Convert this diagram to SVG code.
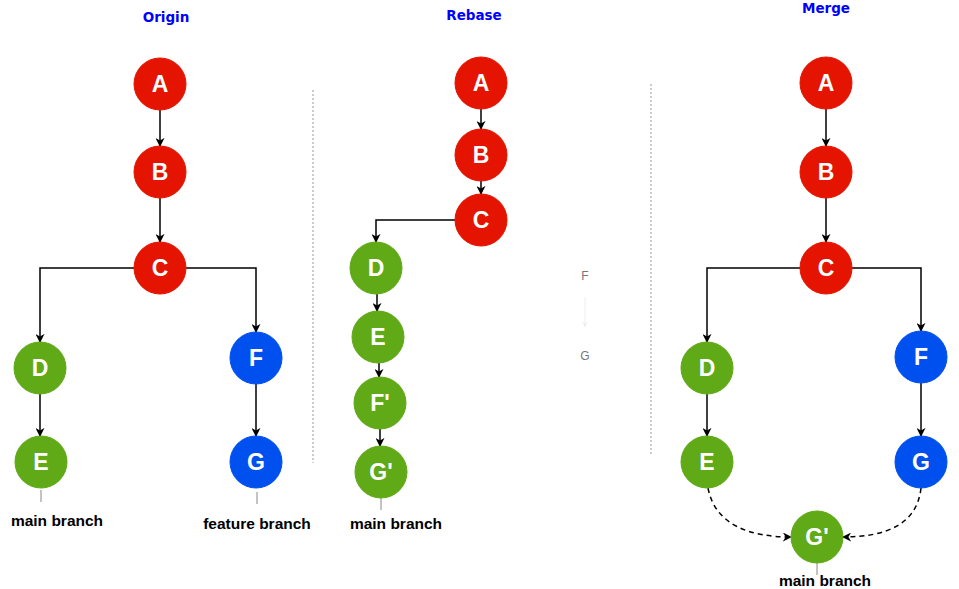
<svg xmlns="http://www.w3.org/2000/svg" width="959" height="589" viewBox="0 0 959 589">
<style>
.red{fill:#e51400;stroke:#e51400}
.grn{fill:#60a917;stroke:#60a917}
.blu{fill:#0050ef;stroke:#0050ef}
.nt{font-family:"Liberation Sans",Arial,sans-serif;font-weight:bold;font-size:23px;fill:#fff;text-anchor:middle}
.lbl{font-family:"Liberation Sans",Arial,sans-serif;font-weight:bold;font-size:15.5px;fill:#000;text-anchor:middle}
.ttl{font-family:"Comic Sans MS","DejaVu Sans",sans-serif;font-weight:bold;font-size:13.5px;fill:#0000ff;text-anchor:middle}
.e{fill:none;stroke:#000;stroke-width:1.5}
.d{fill:none;stroke:#000;stroke-width:1.5;stroke-dasharray:5 4}
.sep{stroke:#999;stroke-width:1;stroke-dasharray:2 2}
.tick{stroke:#888;stroke-width:1}
</style>
<defs>
<marker id="ar" viewBox="0 0 10 10" refX="9" refY="5" markerWidth="9" markerHeight="9" orient="auto" markerUnits="userSpaceOnUse">
<path d="M0,0 L10,5 L0,10 L3,5 Z" fill="#000"/>
</marker>
<marker id="arf" viewBox="0 0 10 10" refX="9" refY="5" markerWidth="6" markerHeight="6" orient="auto" markerUnits="userSpaceOnUse">
<path d="M0,0 L10,5 L0,10 L3,5 Z" fill="#eee"/>
</marker>
</defs>
<rect width="959" height="589" fill="#fff"/>
<g id="titles">
<text class="ttl" x="166" y="22">Origin</text>
<text class="ttl" x="474" y="20">Rebase</text>
<text class="ttl" x="826" y="13">Merge</text>
</g>
<g id="separators">
<line class="sep" x1="313" y1="90" x2="313" y2="463"/>
<line class="sep" x1="651" y1="84" x2="651" y2="455"/>
</g>
<g id="connectors">
<path class="e" d="M160,110 V146" marker-end="url(#ar)"/>
<path class="e" d="M160,198 V242" marker-end="url(#ar)"/>
<path class="e" d="M134,268 H40 V342" marker-end="url(#ar)"/>
<path class="e" d="M186,268 H256 V332" marker-end="url(#ar)"/>
<path class="e" d="M40,394 V436" marker-end="url(#ar)"/>
<path class="e" d="M256,384 V436" marker-end="url(#ar)"/>
<path class="e" d="M481,109 V129" marker-end="url(#ar)"/>
<path class="e" d="M481,181 V194" marker-end="url(#ar)"/>
<path class="e" d="M455,220 H376 V242" marker-end="url(#ar)"/>
<path class="e" d="M377,294 V311" marker-end="url(#ar)"/>
<path class="e" d="M379,363 V377" marker-end="url(#ar)"/>
<path class="e" d="M380,429 V446" marker-end="url(#ar)"/>
<path class="e" d="M826,109 V146" marker-end="url(#ar)"/>
<path class="e" d="M826,198 V242" marker-end="url(#ar)"/>
<path class="e" d="M800,268 H707 V342" marker-end="url(#ar)"/>
<path class="e" d="M852,268 H921 V331" marker-end="url(#ar)"/>
<path class="e" d="M707,394 V436" marker-end="url(#ar)"/>
<path class="e" d="M921,383 V436" marker-end="url(#ar)"/>
<path class="d" d="M708,488 C715,525 750,537 791,537" marker-end="url(#ar)"/>
<path class="d" d="M921,488 C917,525 885,537 843,537" marker-end="url(#ar)"/>
<path d="M585,297 V327" stroke="#eee" stroke-width="1" marker-end="url(#arf)"/>
<line class="tick" x1="41" y1="490" x2="41" y2="502"/>
<line class="tick" x1="257" y1="492" x2="257" y2="504"/>
<line class="tick" x1="381" y1="498" x2="381" y2="510"/>
<line class="tick" x1="817" y1="563" x2="817" y2="575"/>
</g>
<g id="origin-A"><circle class="red" cx="160" cy="84" r="26"/><text class="nt" x="160" y="92">A</text></g>
<g id="origin-B"><circle class="red" cx="160" cy="172" r="26"/><text class="nt" x="160" y="180">B</text></g>
<g id="origin-C"><circle class="red" cx="160" cy="268" r="26"/><text class="nt" x="160" y="276">C</text></g>
<g id="origin-D"><circle class="grn" cx="40" cy="368" r="26"/><text class="nt" x="40" y="376">D</text></g>
<g id="origin-E"><circle class="grn" cx="41" cy="462" r="26"/><text class="nt" x="41" y="470">E</text></g>
<g id="origin-F"><circle class="blu" cx="256" cy="358" r="26"/><text class="nt" x="256" y="366">F</text></g>
<g id="origin-G"><circle class="blu" cx="256" cy="462" r="26"/><text class="nt" x="256" y="470">G</text></g>
<g id="rebase-A"><circle class="red" cx="481" cy="83" r="26"/><text class="nt" x="481" y="91">A</text></g>
<g id="rebase-B"><circle class="red" cx="481" cy="155" r="26"/><text class="nt" x="481" y="163">B</text></g>
<g id="rebase-C"><circle class="red" cx="481" cy="220" r="26"/><text class="nt" x="481" y="228">C</text></g>
<g id="rebase-D"><circle class="grn" cx="376" cy="268" r="26"/><text class="nt" x="376" y="276">D</text></g>
<g id="rebase-E"><circle class="grn" cx="378" cy="337" r="26"/><text class="nt" x="378" y="345">E</text></g>
<g id="rebase-F2"><circle class="grn" cx="380" cy="403" r="26"/><text class="nt" x="380" y="411">F'</text></g>
<g id="rebase-G2"><circle class="grn" cx="381" cy="472" r="26"/><text class="nt" x="381" y="480">G'</text></g>
<g id="ghost-F"><text x="585" y="280" font-family="'Liberation Sans',Arial,sans-serif" font-size="12" fill="#777" text-anchor="middle">F</text></g>
<g id="ghost-G"><text x="585" y="360" font-family="'Liberation Sans',Arial,sans-serif" font-size="12" fill="#777" text-anchor="middle">G</text></g>
<g id="merge-A"><circle class="red" cx="826" cy="83" r="26"/><text class="nt" x="826" y="91">A</text></g>
<g id="merge-B"><circle class="red" cx="826" cy="172" r="26"/><text class="nt" x="826" y="180">B</text></g>
<g id="merge-C"><circle class="red" cx="826" cy="268" r="26"/><text class="nt" x="826" y="276">C</text></g>
<g id="merge-D"><circle class="grn" cx="707" cy="368" r="26"/><text class="nt" x="707" y="376">D</text></g>
<g id="merge-E"><circle class="grn" cx="707" cy="462" r="26"/><text class="nt" x="707" y="470">E</text></g>
<g id="merge-F"><circle class="blu" cx="921" cy="357" r="26"/><text class="nt" x="921" y="365">F</text></g>
<g id="merge-G"><circle class="blu" cx="921" cy="462" r="26"/><text class="nt" x="921" y="470">G</text></g>
<g id="merge-G2"><circle class="grn" cx="817" cy="537" r="26"/><text class="nt" x="817" y="545">G'</text></g>
<g id="labels">
<text class="lbl" x="57" y="526">main branch</text>
<text class="lbl" x="257" y="529">feature branch</text>
<text class="lbl" x="396" y="529">main branch</text>
<text class="lbl" x="825" y="586">main branch</text>
</g>
</svg>
